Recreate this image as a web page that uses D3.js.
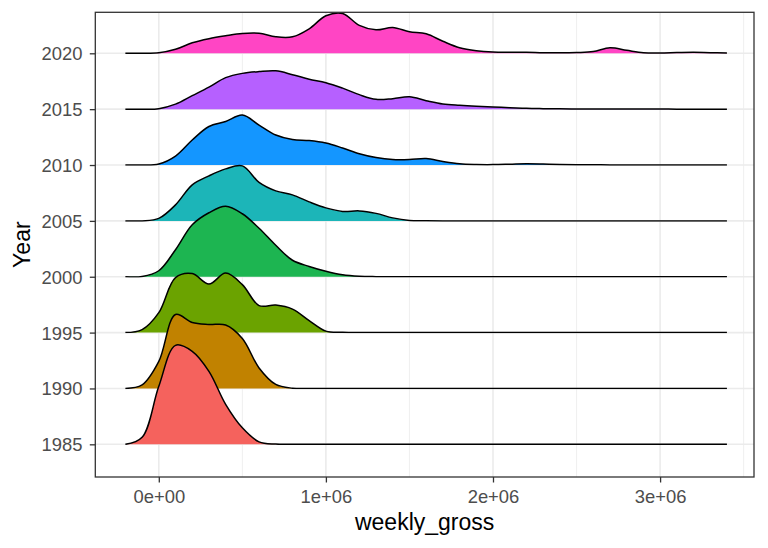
<!DOCTYPE html>
<html>
<head>
<meta charset="utf-8">
<script src="https://cdn.jsdelivr.net/npm/d3@7"></script>
<style>
  body { margin: 0; background: #fff; }
  text { font-family: "Liberation Sans", Arial, sans-serif; }
</style>
</head>
<body>
<div id="chart"></div>
<script>
// years, bottom to top
var years = ["1985", "1990", "1995", "2000", "2005", "2010", "2015", "2020"];
var fills = ["#F5625D", "#C18200", "#6BA300", "#1DB551", "#1CB5B8", "#1496FF", "#B660FF", "#FF45C4"];

// weekly_gross sample points
var grossX = [-200000, -100000, 0, 100000, 200000, 300000, 400000, 500000, 600000, 700000,
  800000, 900000, 1000000, 1100000, 1200000, 1300000, 1400000, 1500000, 1600000, 1700000,
  1800000, 1900000, 2000000, 2100000, 2200000, 2300000, 2400000, 2500000, 2600000, 2700000,
  2800000, 2900000, 3000000, 3100000, 3200000, 3300000, 3400000];

// ridge heights (scaled density)
var h1985 = [0, 7, 58, 99, 93, 73, 40, 16.5, 2.5, 0.2, 0, 0, 0, 0, 0, 0, 0, 0, 0, 0, 0, 0, 0, 0, 0, 0, 0, 0, 0, 0, 0, 0, 0, 0, 0, 0, 0];
var h1990 = [0, 3.5, 27, 74, 66, 64, 63.5, 50, 20.5, 4, 0.3, 0, 0, 0, 0, 0, 0, 0, 0, 0, 0, 0, 0, 0, 0, 0, 0, 0, 0, 0, 0, 0, 0, 0, 0, 0, 0];
var h1995 = [0, 3, 20, 55, 59, 48.5, 59.5, 48, 27, 27.5, 23.5, 12, 1.5, 0.3, 0, 0, 0, 0, 0, 0, 0, 0, 0, 0, 0, 0, 0, 0, 0, 0, 0, 0, 0, 0, 0, 0, 0];
var h2000 = [0, 0.2, 6, 27, 52, 64, 70.5, 63, 48.5, 31.5, 16.5, 10.3, 5.5, 2, 0.5, 0.1, 0, 0, 0, 0, 0, 0, 0, 0, 0, 0, 0, 0, 0, 0, 0, 0, 0, 0, 0, 0, 0];
var h2005 = [0, 0, 2.5, 16, 36, 45, 52, 55, 38.5, 30, 26, 19, 13, 9.5, 10, 7.5, 3, 0.5, 0.2, 0, 0, 0, 0, 0, 0, 0, 0, 0, 0, 0, 0, 0, 0, 0, 0, 0, 0];
var h2010 = [0, 0, 1, 9, 25, 38.5, 43.5, 50, 40, 30, 25.5, 24.5, 22, 17, 11.3, 7.5, 5.5, 5.5, 6.5, 3.5, 1.2, 0.5, 0.4, 0.8, 1.3, 1, 0.5, 0.2, 0.2, 0.1, 0.1, 0.1, 0.1, 0.1, 0.1, 0.1, 0.1];
var h2015 = [0, 0, 0.5, 5, 13.5, 22, 31.5, 35.8, 37.6, 38.3, 34.5, 30, 26.5, 21, 14.5, 9.8, 10.5, 12.3, 8.5, 5.2, 3.8, 2.8, 2.1, 1.5, 0.8, 0.5, 0.3, 0.2, 0.1, 0.1, 0.1, 0.1, 0.1, 0, 0, 0, 0];
var h2020 = [0, 0, 0.5, 4, 10.5, 14.6, 17.5, 19.8, 20, 16.5, 16.5, 24.5, 37.5, 39.8, 28, 23.5, 25.8, 21.5, 19.5, 12, 5.5, 2.5, 1.2, 1, 1, 0.6, 0.5, 0.8, 1.7, 5.5, 3, 0.6, 0.3, 0.7, 1, 0.6, 0.3];
var heights = [h1985, h1990, h1995, h2000, h2005, h2010, h2015, h2020];

var xTicks = [0, 1000000, 2000000, 3000000];
var xMinor = [500000, 1500000, 2500000, 3500000];
var xTickLabels = ["0e+00", "1e+06", "2e+06", "3e+06"];

var width = 768, height = 548;
// panel edges (note: "top" is reserved on window)
var pL = 95.3, pR = 754, pT = 12.3, pB = 477;

var svg = d3.select('#chart').append('svg')
  .attr('width', width).attr('height', height);

var x = d3.scaleLinear().domain([-380000, 3562000]).range([pL, pR]);
var y = d3.scaleLinear().domain([-0.585, 7.734]).range([pB, pT]);
var step = y(0) - y(1);
var hScale = d3.scaleLinear().domain([0, 100]).range([0, 1.79 * step]);

svg.append('clipPath').attr('id', 'clip')
  .append('rect').attr('x', pL).attr('y', pT)
  .attr('width', pR - pL).attr('height', pB - pT);

// grid
var grid = svg.append('g');
grid.selectAll('.minor').data(xMinor).enter().append('line')
  .attr('x1', function(d) { return x(d); }).attr('x2', function(d) { return x(d); })
  .attr('y1', pT).attr('y2', pB)
  .style('stroke', '#EBEBEB').style('stroke-width', 0.8);
grid.selectAll('.major').data(xTicks).enter().append('line')
  .attr('x1', function(d) { return x(d); }).attr('x2', function(d) { return x(d); })
  .attr('y1', pT).attr('y2', pB)
  .style('stroke', '#EBEBEB').style('stroke-width', 1.6);
grid.selectAll('.hmajor').data(years).enter().append('line')
  .attr('x1', pL).attr('x2', pR)
  .attr('y1', function(d, i) { return y(i); }).attr('y2', function(d, i) { return y(i); })
  .style('stroke', '#EBEBEB').style('stroke-width', 1.6);

// ridges, top row first so lower ones sit over it
var ridges = svg.append('g').attr('clip-path', 'url(#clip)');
var order = d3.range(years.length).reverse();
var curve = d3.curveCatmullRom.alpha(0.5);

order.forEach(function(i) {
  var base = y(i);
  var pts = grossX.map(function(g, k) { return [g, heights[i][k]]; });

  // keep the smoothed outline from dipping under the baseline
  var area = d3.area()
    .x(function(d) { return x(d[0]); })
    .y0(base)
    .y1(function(d) { return base - hScale(d[1]); })
    .curve(curve);
  var line = d3.line()
    .x(function(d) { return x(d[0]); })
    .y(function(d) { return base - hScale(d[1]); })
    .curve(curve);

  var cp = 'clip' + i;
  ridges.append('clipPath').attr('id', cp)
    .append('rect').attr('x', pL).attr('y', pT)
    .attr('width', pR - pL).attr('height', base - pT + 0.75);

  var g = ridges.append('g').attr('clip-path', 'url(#' + cp + ')');
  g.append('path').attr('d', area(pts))
    .style('fill', fills[i]).style('stroke', 'none');
  g.append('path').attr('d', line(pts))
    .style('fill', 'none').style('stroke', '#000').style('stroke-width', 1.5);
});

// panel border
svg.append('rect').attr('x', pL).attr('y', pT)
  .attr('width', pR - pL).attr('height', pB - pT)
  .style('fill', 'none').style('stroke', '#333').style('stroke-width', 1.3);

// axes
var xAxis = svg.append('g').attr('transform', 'translate(0,' + pB + ')')
  .call(d3.axisBottom(x).tickValues(xTicks).tickSize(5.5)
    .tickFormat(function(d, i) { return xTickLabels[i]; }));
var yAxis = svg.append('g').attr('transform', 'translate(' + pL + ',0)')
  .call(d3.axisLeft(d3.scalePoint().domain(years).range([y(0), y(7)]))
    .tickSize(5.5));

[xAxis, yAxis].forEach(function(a) {
  a.select('.domain').remove();
  a.selectAll('line').style('stroke', '#333').style('stroke-width', 1.3);
  a.selectAll('text').style('fill', '#4D4D4D').style('font-size', '18.4px')
    .style('font-family', '"Liberation Sans", Arial, sans-serif');
});
xAxis.selectAll('text').attr('y', 12.5).attr('dy', '0.71em');
yAxis.selectAll('text').attr('x', -12.8).attr('dy', '0.35em');

svg.append('text').attr('x', (pL + pR) / 2).attr('y', 530)
  .attr('text-anchor', 'middle').style('font-size', '23px').style('fill', '#000')
  .text('weekly_gross');
svg.append('text')
  .attr('transform', 'translate(30,' + ((pT + pB) / 2) + ') rotate(-90)')
  .attr('text-anchor', 'middle').style('font-size', '23px').style('fill', '#000')
  .text('Year');
</script>
</body>
</html>
